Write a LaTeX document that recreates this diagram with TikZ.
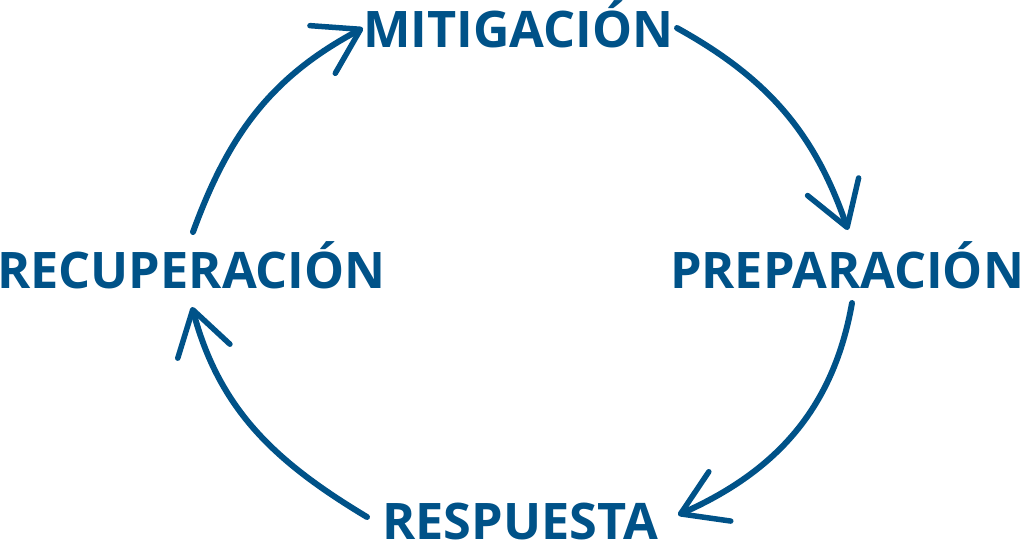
\documentclass[tikz,border=0pt]{standalone}
\usepackage{fontspec}
\setmainfont{Open Sans}
\usetikzlibrary{arrows.meta}
\definecolor{cycblue}{RGB}{0,82,136}
\tikzset{
  lbl/.style={anchor=base, inner sep=0pt, text=cycblue, font=\fontsize{50.4}{50.4}\selectfont\bfseries},
  cyc/.style={draw=cycblue, line width=6pt, line cap=round,
    -{Straight Barb[length=43pt, width=54pt, line width=5.5pt, round]}}
}
\begin{document}
\begin{tikzpicture}[x=1pt,y=-1pt]
\useasboundingbox (0,0) rectangle (1024,542);
\node[lbl] (mit) at (518.5,47) {MITIGACIÓN};
\node[lbl] (pre) at (847,288) {PREPARACIÓN};
\node[lbl] (res) at (520,539) {RESPUESTA};
\node[lbl] (rec) at (191.5,288) {RECUPERACIÓN};
\coordinate (a1s) at (193,232);
\coordinate (a1e) at (363,28);
\coordinate (a2s) at (677,28);
\coordinate (a2e) at (848,230);
\coordinate (a3s) at (852,303);
\coordinate (a3e) at (678,515);
\coordinate (a4s) at (367,517);
\coordinate (a4e) at (192,307);
\draw[cyc] (a1s) to[out=70,in=208] (a1e);
\draw[cyc] (a2s) to[out=-29,in=109] (a2e);
\draw[cyc] (a3s) to[out=-100,in=24] (a3e);
\draw[cyc] (a4s) to[out=149,in=-75] (a4e);
\end{tikzpicture}
\end{document}
